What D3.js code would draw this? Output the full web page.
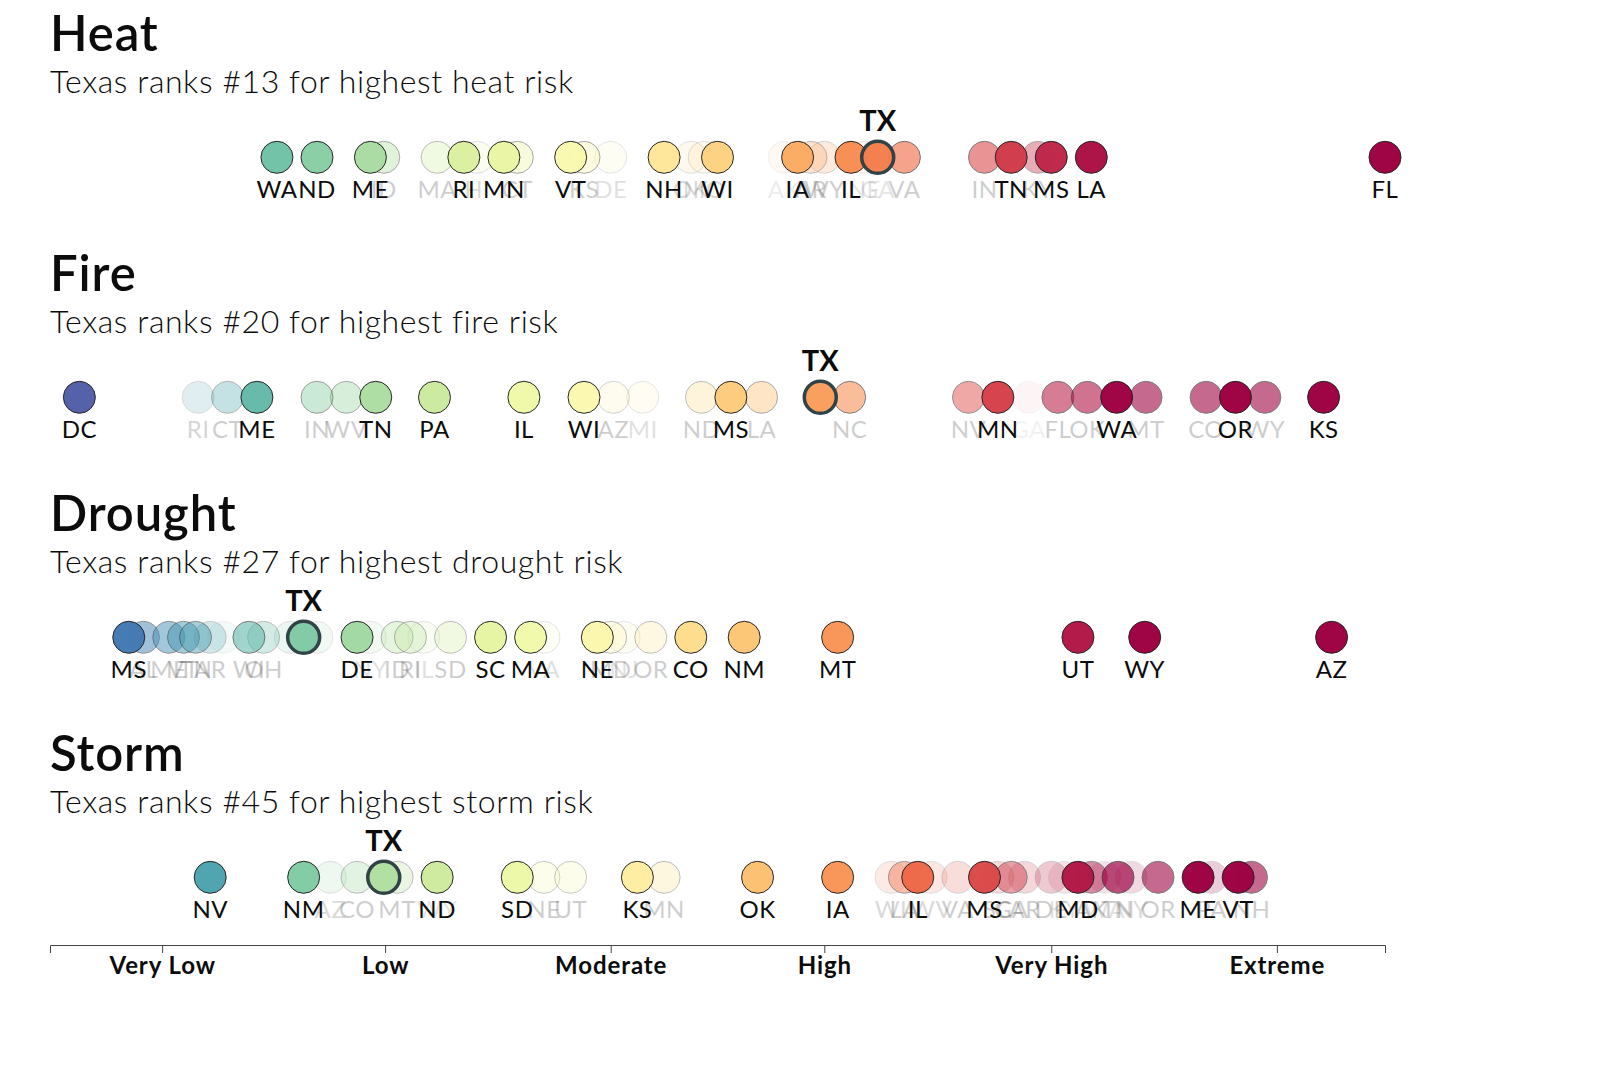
<!DOCTYPE html>
<html>
<head>
<meta charset="utf-8">
<script src="https://cdn.jsdelivr.net/npm/d3@7"></script>
<style>
body { margin: 0; background: #fff; }
text { font-family: Lato, "Noto Sans", sans-serif; fill: #0c0c0c; }
.title { font-size: 49px; font-weight: 600; letter-spacing: 0.9px; }
.subtitle { font-size: 32px; font-weight: 300; letter-spacing: 0.58px; }
.state { font-size: 24px; text-anchor: middle; letter-spacing: 0.5px; }
.texas { font-size: 29px; font-weight: 700; text-anchor: middle; }
.risk-axis text { font-size: 24px; font-weight: 700; font-family: Lato, sans-serif; letter-spacing: 0.9px; }
.risk-axis path, .risk-axis line { stroke: #444; }
</style>
</head>
<body>
<svg id="chart" width="1600" height="1067"></svg>
<script>
// state, score (0-100 risk index) and how strongly each state is emphasised (0-10)
// an empty name is a dot whose label can't be read in the original
var heatStates  = ["WA","ND","ME","ID","MA","RI","HI","MN","CT","VT","KS","DE","NH","OK","MO","WI","AK","IA","AR","WY","IL","NE","GA","TX","VA","IN","TN","KY","MS","LA","FL"];
var heatScores  = [17,20,24,25,29,31,32,34,35,39,40,42,46,48,49,50,55,56,57,58,60,61,62,62,64,70,72,74,75,78,100];
var heatWeights = [10,10,10,4,3,10,1.5,10,4,10,4,1.2,10,1.5,1.5,10,0.7,10,3,2,10,1,1,10,6.5,6,10,4,10,10,10];

var fireStates  = ["DC","RI","CT","ME","IN","WV","TN","PA","IL","WI","AZ","MI","ND","MS","LA","TX","NC","NV","MN","GA","FL","OK","WA","MT","CO","OR","WY","KS"];
var fireScores  = [2.2,11.1,13.3,15.5,20,22.2,24.4,28.8,35.5,40,42.2,44.4,48.8,51,53.3,57.7,59.9,68.8,71,73.3,75.5,77.7,79.9,82.1,86.6,88.8,91,95.4];
var fireWeights = [10,1.7,3.5,10,4.5,4,10,10,10,10,2,1.2,3,10,4,10,6,5,10,0.5,6,6,10,6,6,10,6,10];

var droughtStates  = ["MS","AL","ME","VT","TN","AR","","WI","OH","","TX","","DE","NY","ID","RI","IL","SD","SC","MA","VA","NE","MD","NJ","OR","CO","NM","MT","UT","WY","AZ"];
var droughtScores  = [5.9,7,8.9,10,10.9,12,13,14.9,16,18,19,20,23,24,26,27,28,30,33,36,37,41,42,43,45,48,52,59,77,82,96];
var droughtWeights = [10,5,5,5,5,2.5,0.7,6,3,1.5,10,1.2,10,1.2,3.5,3.5,1.2,3,10,10,1.2,10,3,1.2,3,10,10,10,10,10,10];

var stormStates  = ["NV","NM","AZ","CO","TX","MT","ND","WY","SD","NE","UT","KS","MN","OK","IA","WI","LA","IL","WV","VA","MS","SC","GA","AR","DE","KY","MD","AK","WA","TN","NY","OR","ME","PA","VT","NH"];
var stormScores  = [12,19,21,23,25,26,29,29,35,37,39,44,46,53,59,63,64,65,66,68,70,71,72,73,75,76,77,78,79,80,81,83,86,87,89,90];
var stormWeights = [10,10,1.5,3,10,3,10,1,10,2.5,2.5,10,3,10,10,1.5,4.5,10,1.5,2,10,2,5,2,2.5,1.2,10,5,1.2,7,1.5,6,10,2,10,6];

var tickValues = [8.4,25.1,42,58,75,91.9];
var tickLabels = ["Very Low","Low","Moderate","High","Very High","Extreme"];

var hazards = ["Heat","Fire","Drought","Storm"];
var ranks = [13,20,27,45];
var allStates = [heatStates,fireStates,droughtStates,stormStates];
var allScores = [heatScores,fireScores,droughtScores,stormScores];
var allWeights = [heatWeights,fireWeights,droughtWeights,stormWeights];

var ROW_HEIGHT = 240;
var CIRCLE_Y = 157.3;
var RADIUS = 16;

var svg = d3.select("#chart");

var x = d3.scaleLinear().domain([0,100]).range([50,1385]);
var color = d3.scaleSequential(d3.interpolateSpectral).domain([80,0]).clamp(true);
var circleOpacity = d3.scaleLinear().domain([0,10]).range([0,0.98]);

function labelOpacity(w) {
    return w === 10 ? 1 : Math.min(0.2, w / 10);
}

var rows = svg.selectAll("g.row")
    .data(hazards)
    .enter()
    .append("g")
        .attr("class", "row")
        .attr("transform", function(d, i) { return "translate(0," + i*ROW_HEIGHT + ")"; });

rows.append("text")
    .attr("class", "title")
    .attr("x", 50)
    .attr("y", 51)
    .text(function(d) { return d; });

rows.append("text")
    .attr("class", "subtitle")
    .attr("x", 50)
    .attr("y", 93)
    .text(function(d, i) { return "Texas ranks #" + ranks[i] + " for highest " + d.toLowerCase() + " risk"; });

rows.each(function(d, i) {
    var points = allStates[i].map(function(s, j) {
        return { state: s, score: allScores[i][j], weight: allWeights[i][j] };
    });
    points = d3.sort(points, function(p) { return p.weight; });

    var g = d3.select(this);

    g.selectAll("circle")
        .data(points)
        .enter()
        .append("circle")
            .attr("cx", function(p) { return x(p.score); })
            .attr("cy", CIRCLE_Y)
            .attr("r", RADIUS)
            .attr("fill", function(p) { return color(p.score); })
            .attr("stroke", function(p) { return p.state == "TX" ? "#2e4044" : "#222"; })
            .attr("stroke-width", function(p) { return p.state == "TX" ? 3.5 : 1; })
            .attr("opacity", function(p) { return circleOpacity(p.weight); });

    g.selectAll("text.state")
        .data(points.filter(function(p) { return p.state != "TX" && p.state != ""; }))
        .enter()
        .append("text")
            .attr("class", "state")
            .attr("x", function(p) { return x(p.score); })
            .attr("y", CIRCLE_Y + 41)
            .attr("opacity", function(p) { return labelOpacity(p.weight); })
            .text(function(p) { return p.state; });

    g.selectAll("text.texas")
        .data(points.filter(function(p) { return p.state == "TX"; }))
        .enter()
        .append("text")
            .attr("class", "texas")
            .attr("x", function(p) { return x(p.score); })
            .attr("y", CIRCLE_Y - 26)
            .text(function(p) { return p.state; });
});

var axis = d3.axisBottom(x)
    .tickValues(tickValues)
    .tickFormat(function(d, i) { return tickLabels[i]; })
    .tickSize(8)
    .tickPadding(4);

svg.append("g")
    .attr("class", "risk-axis")
    .attr("transform", "translate(0,945)")
    .call(axis);
</script>
</body>
</html>
